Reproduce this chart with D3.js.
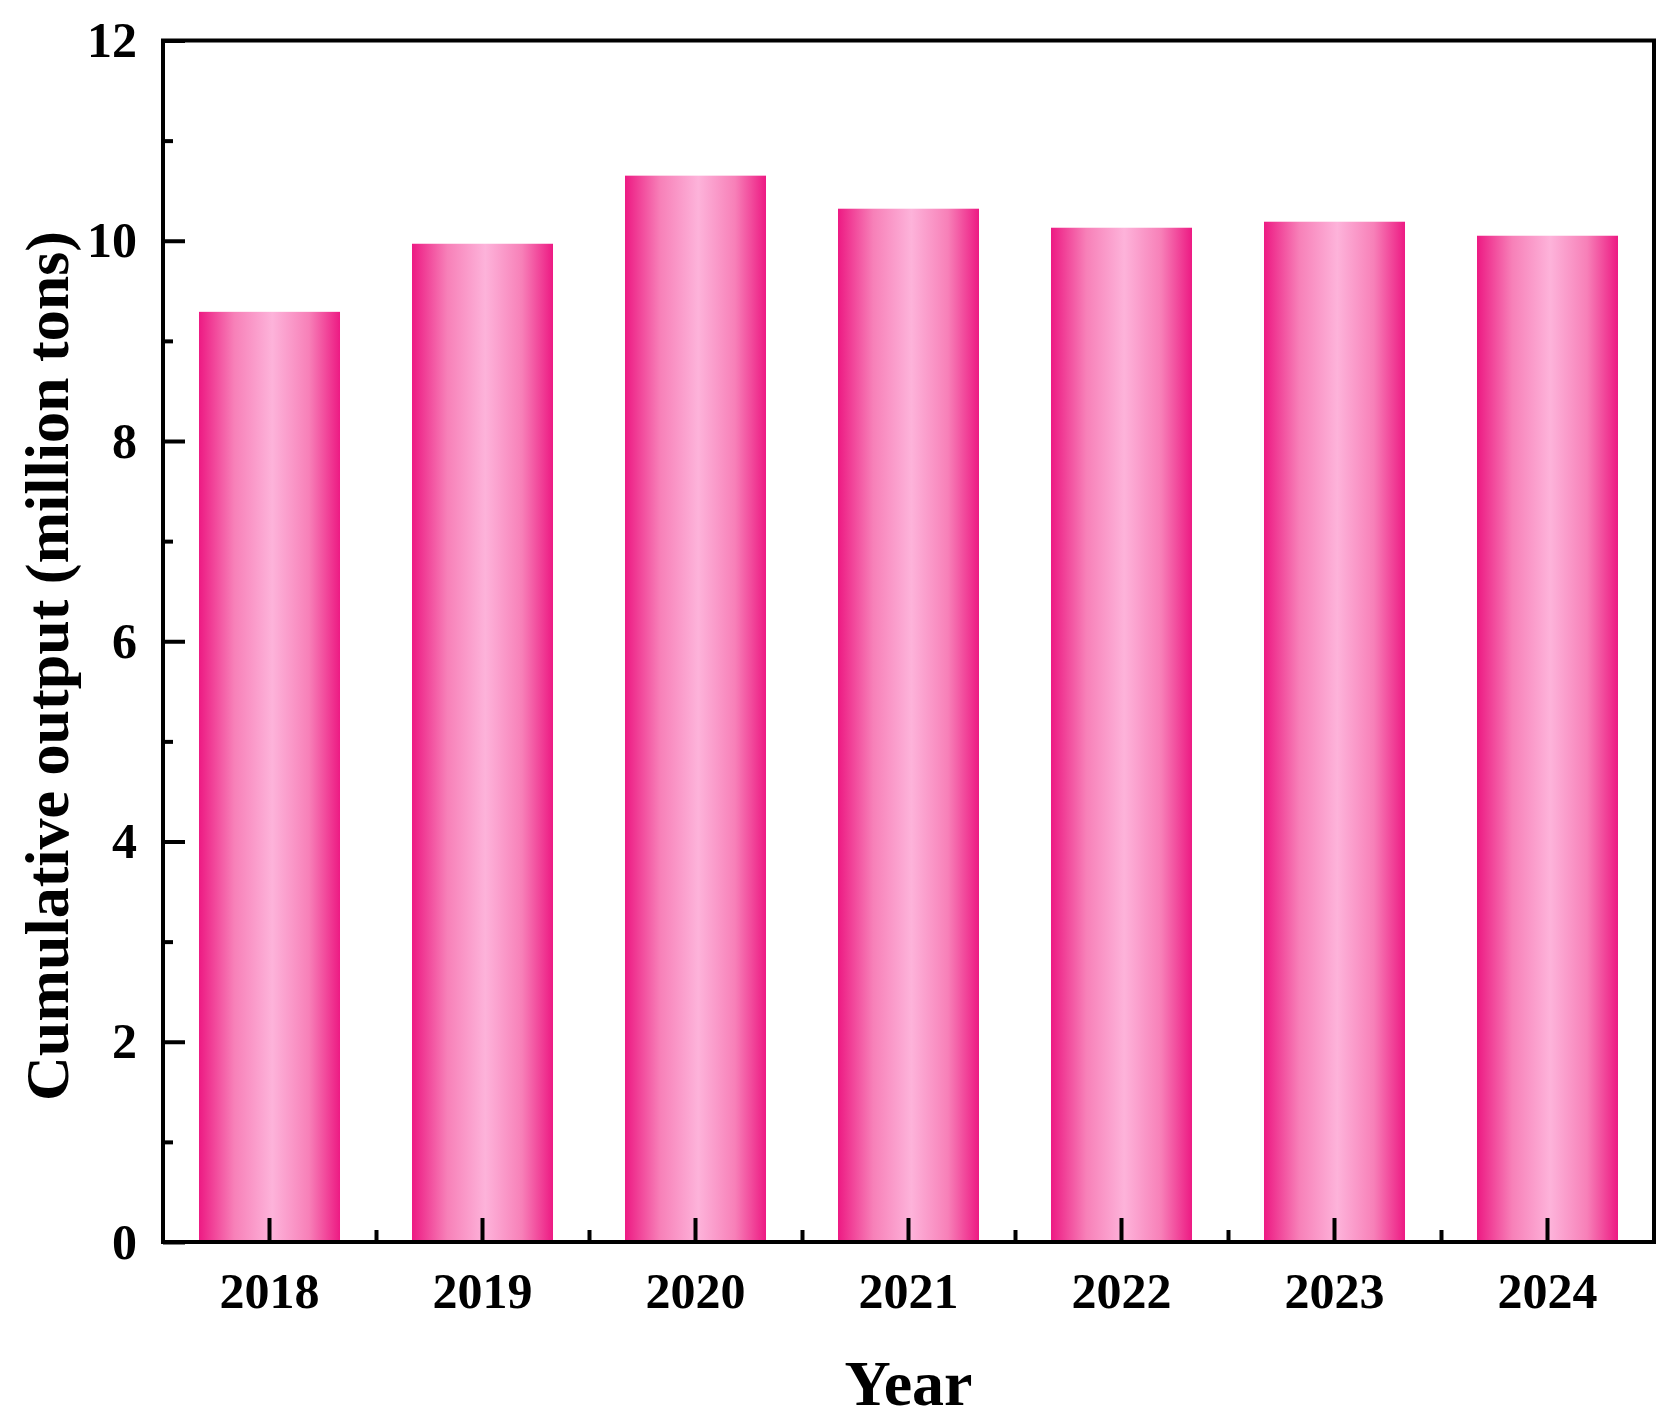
<html>
    <head>
        <title>Cumulative output</title>
        <meta charset="utf-8">
        <script src="https://d3js.org/d3.v7.min.js"></script>
        <style>
            body{
                margin: 0;
                background: #ffffff;
            }
            text{
                font-family: 'Liberation Serif', 'Times New Roman', serif;
                font-weight: bold;
                fill: #000000;
            }
        </style>
    </head>
    <body>
        <svg></svg>
        <script>

            //data
            var years = ["2018", "2019", "2020", "2021", "2022", "2023", "2024"];
            var output = [9.29, 9.97, 10.65, 10.32, 10.13, 10.19, 10.05];
            var yTicks = [0, 2, 4, 6, 8, 10, 12];
            var yMinorTicks = [1, 3, 5, 7, 9, 11];

            //setup canvas
            var width = 1679;
            var height = 1425;
            var plotLeft = 163, plotRight = 1654, plotTop = 40.5, plotBottom = 1242;

            var svg = d3.select("svg")
                .attr("width", width)
                .attr("height", height);

            //gradient for bars
            var grad = svg.append("defs").append("linearGradient")
                .attr("id", "barGrad")
                .attr("x1", "0%").attr("x2", "100%")
                .attr("y1", "0%").attr("y2", "0%");
            grad.append("stop").attr("offset", "0%").attr("stop-color", "#ED1A83");
            grad.append("stop").attr("offset", "25%").attr("stop-color", "#F780B8");
            grad.append("stop").attr("offset", "52%").attr("stop-color", "#FDB3DA");
            grad.append("stop").attr("offset", "78%").attr("stop-color", "#F780B8");
            grad.append("stop").attr("offset", "100%").attr("stop-color", "#ED1A83");

            //scales
            var x = d3.scaleBand()
                .domain(years)
                .range([plotLeft, plotRight])
                .paddingInner(0.338)
                .paddingOuter(0.169);

            var y = d3.scaleLinear()
                .domain([0, 12])
                .range([plotBottom, plotTop]);

            //bars
            svg.selectAll("rect.bar")
                .data(output)
                .enter()
                .append("rect")
                .attr("class", "bar")
                .attr("x", function(d, i){ return x(years[i]); })
                .attr("y", function(d){ return y(d); })
                .attr("width", x.bandwidth())
                .attr("height", function(d){ return y(0) - y(d); })
                .style("fill", "url(#barGrad)");

            //minor ticks between categories
            var step = x.step();
            var boundaries = years.slice(1).map(function(d){ return x(d) - x.paddingInner() * step / 2; });
            var xMinor = d3.scaleLinear().domain([plotLeft, plotRight]).range([plotLeft, plotRight]);

            svg.append("g")
                .attr("transform", "translate(0," + plotBottom + ")")
                .call(d3.axisBottom(xMinor).tickValues(boundaries).tickSizeInner(-12).tickSizeOuter(0).tickFormat(""))
                .call(function(g){ g.select(".domain").remove(); })
                .selectAll("line").attr("stroke-width", 4).attr("stroke", "#000");

            //x axis
            var xAxis = svg.append("g")
                .attr("transform", "translate(0," + plotBottom + ")")
                .call(d3.axisBottom(x).tickSizeInner(-24).tickSizeOuter(0).tickPadding(30));
            xAxis.select(".domain").remove();
            xAxis.selectAll("line").attr("stroke-width", 4).attr("stroke", "#000");
            xAxis.selectAll("text").style("font-size", "50px").attr("font-family", null);

            //y axis
            var yAxis = svg.append("g")
                .attr("transform", "translate(" + plotLeft + ",0)")
                .call(d3.axisLeft(y).tickValues(yTicks).tickSizeInner(-22).tickSizeOuter(0).tickPadding(26));
            yAxis.select(".domain").remove();
            yAxis.selectAll("line").attr("stroke-width", 4).attr("stroke", "#000");
            yAxis.selectAll("text").style("font-size", "50px").attr("font-family", null);

            var yMinor = svg.append("g")
                .attr("transform", "translate(" + plotLeft + ",0)")
                .call(d3.axisLeft(y).tickValues(yMinorTicks).tickSizeInner(-10).tickSizeOuter(0).tickFormat(""));
            yMinor.select(".domain").remove();
            yMinor.selectAll("line").attr("stroke-width", 4).attr("stroke", "#000");

            //frame
            svg.append("rect")
                .attr("x", plotLeft)
                .attr("y", plotTop)
                .attr("width", plotRight - plotLeft)
                .attr("height", plotBottom - plotTop)
                .style("fill", "none")
                .style("stroke", "#000")
                .style("stroke-width", 4);

            //axis titles
            svg.append("text")
                .attr("x", (plotLeft + plotRight) / 2)
                .attr("y", 1405)
                .attr("text-anchor", "middle")
                .style("font-size", "64px")
                .text("Year");

            svg.append("text")
                .attr("transform", "translate(68," + 666 + ") rotate(-90)")
                .attr("text-anchor", "middle")
                .style("font-size", "62px")
                .text("Cumulative output (million tons)");

        </script>
    </body>
</html>
